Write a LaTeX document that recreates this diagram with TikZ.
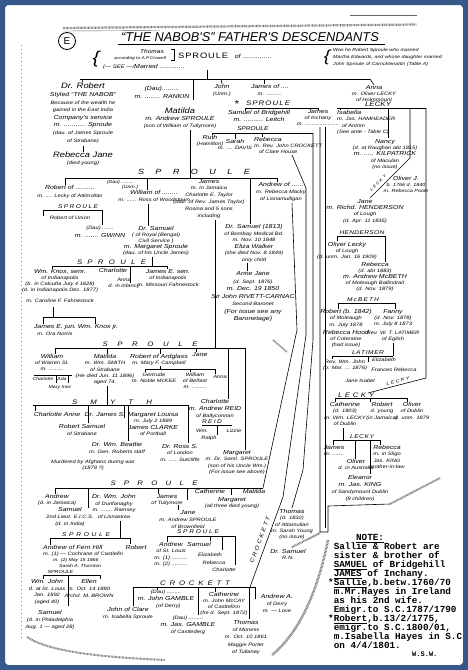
\documentclass[tikz,border=0pt]{standalone}
\usepackage{fontspec}
\setmainfont{Liberation Sans}[FakeStretch=1.2]
\newfontfamily\ttl{Liberation Sans}
\newfontfamily\tw{Liberation Mono}
\definecolor{frameblue}{RGB}{55,88,138}
\newcommand\hm[1]{{\fontsize{5.8}{7}\selectfont #1}}
\newcommand\hn[1]{{\fontsize{7.8}{8}\selectfont #1}}
\newcommand\spreadw[2]{\makebox[#1][s]{#2}}
\begin{document}
\lineskiplimit=-20pt
\begin{tikzpicture}[x=1pt,y=-1pt,
 ln/.style={line width=0.6pt},
 b/.style={font=\itshape\fontsize{4.8}{7}\selectfont, align=center, inner sep=0pt, anchor=north},
 bs/.style={font=\itshape\fontsize{4.8}{#1}\selectfont},
 hd/.style={font=\itshape\fontsize{6.5}{7}\selectfont, inner sep=0pt},
 hds/.style={font=\itshape\fontsize{#1}{7}\selectfont, inner sep=0pt},
 hash/.style={line width=2pt, black!55, dash pattern=on 0.7pt off 0.7pt}]
\useasboundingbox (0,0) rectangle (468,670);
\fill[frameblue] (0,0) rectangle (468,670);
\fill[white, rounded corners=3pt] (5,5) rectangle (463,665);

% ---------- header ----------
\draw[hash, line width=2.2pt] (63,28) -- (417,24.5);
\draw[black!60, line width=0.4pt] (63,31) -- (160,30.5);
\draw[black!60, line width=0.5pt] (350,15) -- (417,15);
\draw[black!50, line width=0.6pt, dash pattern=on 1pt off 3pt] (21,45) -- (21,640);
\node[draw, circle, line width=0.8pt, minimum size=17pt, inner sep=0pt, font=\ttl\fontsize{10}{10}\selectfont] (circE) at (67,41) {E};
\node[font=\ttl\itshape\fontsize{12.8}{13}\selectfont, inner sep=0pt] (title) at (250,37) {“THE NABOB'S” FATHER'S DESCENDANTS};
\draw[ln] (118,44) -- (385,44);

\node[inner sep=0pt, font=\itshape\fontsize{5.5}{6}\selectfont] (thomas) at (152,52) {Thomas};
\node[inner sep=0pt, font=\itshape\fontsize{4}{5}\selectfont] (acc) at (140,58) {according to A.P.Crowell};
\draw[ln] (171,49) -- (174,49) -- (174,60) -- (171,60);
\node[inner sep=0pt, font=\itshape\fontsize{5}{6}\selectfont, anchor=west] (married) at (103,66.5) {(--- SEE ---/\hm{Married .............}};
\node[inner sep=0pt, font=\itshape\fontsize{17}{17}\selectfont] (brace1) at (96,59) {\{};
\node[inner sep=0pt, anchor=west] (sproule0) at (178,56) {\hn{\spreadw{50pt}{S\hfill P\hfill R\hfill O\hfill U\hfill L\hfill E}}\ \ \hm{\itshape of ...............}};
\node[inner sep=0pt, font=\itshape\fontsize{16}{16}\selectfont] (brace2) at (327,57) {\{};
\node[inner sep=0pt, font=\itshape\fontsize{4.4}{5}\selectfont, anchor=west] (washe1) at (333,50) {Was he Robert Sproule who married};
\node[inner sep=0pt, font=\itshape\fontsize{4.4}{5}\selectfont, anchor=west] (washe2) at (333,57.3) {Martha Edwards, and whose daughter married};
\node[inner sep=0pt, font=\itshape\fontsize{4.4}{5}\selectfont, anchor=west] (washe3) at (333,64.6) {John Sproule of Carricklenattin (Table A)};

% ---------- generation 1 ----------
\draw[ln] (207,70) -- (207,79);
\draw[ln] (80,79) -- (370,79);
\node[b, bs=7.6] (drrobert) at (83,83) {\hn{Dr. Robert}\\ \hm{Styled “THE NABOB”}\\ Because of the wealth he\\ gained in the East India\\ \hm{Company's service}\\ \hm{m. ........... Sproule}\\ (dau. of James Sproule\\ of Strabane)};
\draw[ln] (82,79) -- (drrobert.north);
\node[b] (rebjane) at (83,152) {\hn{Rebecca Jane}\\ (died young)};
\draw[ln] (83,146) -- (rebjane.north);

\node[b, bs=8] (rankin) at (162,86) {\hm{(Dau).........}\\ \hm{m. ........ RANKIN}};
\draw[ln] (193,79) -- (193,100);
\node[b] (matilda) at (180,108) {\hn{Matilda}\\ \hm{m. Andrew SPROULE}\\ (son of William of Tullymore)};
\draw[ln] (190,130) -- (190,178);

\node[b] (john) at (222,84) {\hm{John}\\ (Unm.)};
\draw[ln] (221,79) -- (john.north);
\node[b] (jamesof) at (270,84) {\hm{James of ....}\\ m. ..........};
\draw[ln] (264,79) -- (264,84);
\node[inner sep=0pt, font=\fontsize{10}{10}\selectfont] (star) at (237,104) {*};
\node[hd] (spr1) at (268,103) {\spreadw{44pt}{S\hfill P\hfill R\hfill O\hfill U\hfill L\hfill E}};
\draw[ln] (245,108) -- (318,108);
\draw[ln] (245,108) -- (245,111);
\draw[ln] (318,108) -- (318,110);
\node[b] (samb) at (259,110) {\hm{Samuel of Bridgehill}\\ \hm{m. .......... Leitch}};
\node[b, bs=6] (jinch) at (318,109.5) {\hm{James}\\ of Inchany\\ m. .....................};
\node[hds=5.5] (spr2) at (250,128.5) {\spreadw{26pt}{S\hfill P\hfill R\hfill O\hfill U\hfill L\hfill E}};
\draw[ln] (212,133) -- (313,133);
\draw[ln] (212,133) -- (212,135);
\node[b, bs=6] (ruth) at (210,135) {\hm{Ruth}\\ (Hamilton)};
\node[b, bs=6] (sarah) at (235,139) {\hm{Sarah}\\ m. .... DAVIS};
\draw[ln] (235,133) -- (sarah.north);
\node[b, bs=6, align=left, anchor=north west] (rebc) at (254,137) {\hm{Rebecca}\\ m. Rev. John CROCKETT\\ \quad of Clare House};
\draw[ln] (262,133) -- (262,137);

% ---------- Lecky (right) ----------
\node[b, bs=6.3] (anna) at (374,85) {\hm{Anna}\\ m. Oliver LECKY\\ of Holmmount};
\draw[ln] (370,79) -- (anna.north);
\node[hd] (leck1) at (378,104.5) {\spreadw{26pt}{L\hfill E\hfill C\hfill K\hfill Y}};
\draw[ln] (337,108) -- (426,108);
\node[b, bs=6.5, align=left, anchor=north west] (isab) at (337,110) {\hm{Isabella}\\ m. Jas. HAMHEADER\\ \quad of Antrim\\ (See ante - Table C)};
\draw[ln] (340,108) -- (340,110);
\draw[ln] (388,108) -- (388,138);
\node[b, bs=6.4] (nancy) at (385,139) {\hm{Nancy}\\ (d. at Raughan abt 1815)\\ \hm{m. ..... KILPATRICK}\\ of Maculan\\ (no issue)};
\node[b, bs=6, font=\itshape\fontsize{4.5}{6}\selectfont] (oliverj) at (406,176) {\hm{Oliver J.}\\ b. 1766 d. 1840\\ m. Rebecca Poole};
\draw[ln] (410,108) -- (410,158) -- (370,198);
\node[inner sep=0pt, font=\itshape\fontsize{4}{4}\selectfont, rotate=45] (lklab1) at (378,183) {L E C K Y};
\draw[ln] (426,108) -- (426,378) -- (368,393);
\node[inner sep=0pt, font=\itshape\fontsize{4.5}{4}\selectfont, rotate=14.5] (lklab2) at (398,381) {L E C K Y};

\node[b, bs=6.3] (jane) at (365,199) {\hm{Jane}\\ \hm{m. Richd. HENDERSON}\\ of Lough\\ (d. Apr. 11 1835)};
\node[hds=5.5] (hend) at (362,233) {\spreadw{45pt}{H\hfill E\hfill N\hfill D\hfill E\hfill R\hfill S\hfill O\hfill N}};
\draw[ln] (337,236) -- (385,236);
\draw[ln] (337,236) -- (337,241);
\node[b, bs=6] (olecky) at (347,242) {\hm{Oliver Lecky}\\ of Lough\\ (d. unm. Jan. 16 1909)};
\draw[ln] (385,236) -- (385,262);
\node[b, bs=6] (rebmcb) at (375,262) {\hm{Rebecca}\\ (d. abt 1883)\\ \hm{m. Andrew McBETH}\\ of Moleaugh Ballindrait\\ (d. Nov. 1879)};
\node[hds=5.5] (mcbeth) at (363,300) {\spreadw{32pt}{M\hfill c\hfill B\hfill E\hfill T\hfill H}};
\draw[ln] (338,303) -- (395,303);
\draw[ln] (338,303) -- (338,309);
\draw[ln] (395,303) -- (395,309);
\node[b, bs=6.3] (robmc) at (346,309) {\hm{Robert (b. 1842)}\\ of Moleaugh\\ m. July 1878\\[2pt] \hm{Rebecca Hood}\\ of Coleraine\\ (had issue)};
\node[b, bs=6.3] (fanny) at (393,309) {\hm{Fanny}\\ (d. Nov. 1878)\\ m. July 8 1873\\[2pt] Rev. W. T. LATIMER\\ of Eglish};
\draw[ln] (393,343) -- (393,356);
\node[hds=5.5] (latimer) at (368,353) {\spreadw{32pt}{L\hfill A\hfill T\hfill I\hfill M\hfill E\hfill R}};
\draw[ln] (332,356) -- (393,356);
\draw[ln] (332,356) -- (332,359);
\draw[ln] (368,356) -- (368,362);
\node[b, bs=6] (revwm) at (345,360) {Rev. Wm. John\\ (b. Mar. ... 1876)};
\node[b] (eliz) at (384,358) {Elizabeth};
\node[b] (frances) at (394,368) {Frances Rebecca};
\node[b] (janeis) at (360,379) {Jane Isabel};

\node[hd] (leck2) at (356,395) {\spreadw{36pt}{L\hfill E\hfill C\hfill K\hfill Y}};
\draw[ln] (335,398) -- (407,398);
\draw[ln] (335,398) -- (335,402);
\draw[ln] (370,398) -- (370,402);
\draw[ln] (407,398) -- (407,402);
\node[b, bs=6.3] (cathl) at (345,402) {\hm{Catherine}\\ (d. 1803)\\ m. Wm. LECKY\\ of Dublin};
\node[b, bs=6.3] (robl) at (382,402) {\hm{Robert}\\ d. young\\ (in Jamaica)};
\node[b, bs=6.3] (olivl) at (412,402) {\hm{Oliver}\\ of Dublin\\ d. unm. 1879};
\draw[ln] (343,428) -- (343,440);
\node[hds=5.5] (leck3) at (362,436.5) {\spreadw{24pt}{L\hfill E\hfill C\hfill K\hfill Y}};
\draw[ln] (333,440) -- (380,440);
\draw[ln] (333,440) -- (333,445);
\draw[ln] (380,440) -- (380,445);
\draw[ln] (355,440) -- (355,459);
\draw[ln] (370,440) -- (370,474);
\node[b, bs=6.5] (jamesl) at (334,445) {\hm{James}\\ m. .......};
\node[b, bs=6.5] (olivl2) at (356,459) {\hm{Oliver}\\ d. in Australia};
\node[b, bs=6.5] (rebl) at (387,445) {\hm{Rebecca}\\ m. in Sligo\\ Jas. KING\\ brother-in-law};
\node[b, bs=7] (eleanor) at (360,475) {\hm{Eleanor}\\ \hm{m. Jas. KING}\\ of Sandymount Dublin\\ (8 children)};

% right-hand long lines and note frame
\draw[ln] (320,127) -- (320,532) -- (328,532) -- (328,506) -- (390,504);
\draw[ln] (325,127) -- (325,528);
\draw[hash] (390,504) -- (440,478);
\draw[hash] (292,547) -- (320,533);
\draw[hash, line width=2.5pt] (328,540) .. controls (318,590) and (300,632) .. (272,655);
\draw[hash] (27,637) .. controls (50,652) and (100,657) .. (165,660);

% ---------- SPROULE (children of Matilda) ----------
\node[hds=7.5] (spr3) at (194,172) {\spreadw{112pt}{S\hfill P\hfill R\hfill O\hfill U\hfill L\hfill E}};
\draw[ln] (65,178) -- (277,178);
\node[inner sep=0pt, font=\itshape\fontsize{4.4}{5}\selectfont] (dau2) at (120,182) {(Dau) ........};
\node[inner sep=0pt, font=\itshape\fontsize{4.4}{5}\selectfont] (unm2) at (130,187) {(Unm.)};
\draw[ln] (65,178) -- (65,185);
\node[b, bs=8] (robof) at (70,185) {\hm{Robert of ..........}\\ m. .... Lecky of Attimollan};
\node[hds=5.5] (spr4) at (78,207) {\spreadw{40pt}{S\hfill P\hfill R\hfill O\hfill U\hfill L\hfill E}};
\draw[ln] (43,210) -- (102,210);
\draw[ln] (43,210) -- (43,216);
\draw[ln] (102,210) -- (102,225);
\node[b] (robunion) at (70,216) {Robert of Union};
\node[b, bs=8] (daugwinn) at (100,226) {(Dau) .......\\ \hm{m. ....... GWINN}};
\draw[ln] (147,178) -- (147,190);
\node[b, bs=7] (willof) at (154,190.5) {\hm{William of ........}\\ m. ...... Ross of Woodstown};
\draw[ln] (148,204) -- (148,226);
\node[b, bs=6] (drsamc) at (156,226.5) {\hm{Dr. Samuel}\\ \{ of Royal (Bengal)\\ Civil Service \}\\ \hm{m. Margaret Sproule}\\ (dau. of his Uncle James)};
\node[hd] (spr5) at (111.5,262) {\spreadw{69pt}{S\hfill P\hfill R\hfill O\hfill U\hfill L\hfill E}};
\draw[ln] (152,257) -- (152,266);
\draw[ln] (52,266) -- (167,266);
\draw[ln] (52,266) -- (52,269);
\node[b, bs=6.2] (wmknox) at (60,269) {\hm{Wm. Knox, senr.}\\ of Indianapolis\\ (b. in Calcutta July 4 1828)\\ (d. in Indianapolis Dec. 1877)\\[5pt] m. Caroline F. Fahnestock};
\draw[ln] (53,307) -- (53,317);
\draw[ln] (43,317) -- (95,317);
\draw[ln] (43,317) -- (43,324);
\draw[ln] (95,317) -- (95,324);
\node[b] (jejun) at (55,324.5) {\hm{James E. jun.}\\ m. Ora Norris};
\node[b] (wkjr) at (98,324.5) {\hm{Wm. Knox jr.}};
\node[b] (charl1) at (113,268) {\hm{Charlotte}};
\draw[ln] (130,266) -- (130,283);
\node[b, bs=6] (anna2) at (124,277.5) {Anna\\ d. in infancy};
\draw[ln] (167,266) -- (167,269);
\node[b, bs=6.5] (jesen) at (168,269) {\hm{James E. sen.}\\ of Indianapolis\\ m. Missouri Fahnestock};

\node[b, bs=6.8] (jamesj) at (209,179) {\hm{James}\\ m. in Jamaica\\ Charlotte E. Taylor\\ (dau. of Rev. James Taylor)\\ Rosina and 5 sons\\ including};
\draw[ln] (215,220) -- (215,348);
\draw[ln] (250,178) -- (250,224);
\node[b, bs=6.6] (drsam13) at (254,224) {\hm{Dr. Samuel (1813)}\\ of Bombay Medical Bd.\\ m. Nov. 10 1848\\ \hm{Eliza Walker}\\ (she died Nov. 8 1849)\\ only child};
\draw[ln] (247,263) -- (247,271);
\node[b, bs=7.5] (annejane) at (253,271.5) {\hm{Anne Jane}\\ (d. Sept. 1876)\\ \hm{m. Dec. 19 1850}\\ \hm{Sir John RIVETT-CARNAC}\\ Second Baronet\\ \hm{(For issue see any}\\ \hm{Baronetage)}};
\draw[ln] (277,178) -- (277,182);
\node[b, bs=6.8] (andrewof) at (281,182) {\hm{Andrew of ......}\\ m. Rebecca Macky\\ of Lisnamulligan};
\draw[ln] (292,203) -- (297,330) -- (263,488);
\draw[ln] (292,155) -- (306,188) -- (306,335) -- (283,497) -- (250,587);
\draw[ln] (313,133) -- (313,340) -- (303,470) -- (292,508);
\node[inner sep=0pt, font=\itshape\fontsize{5.5}{5}\selectfont, rotate=70] (crlab) at (260,540) {C R O C K E T T};
\draw[hash, line width=1.6pt] (273,340) -- (287,352);

% ---------- SPROULE (children of James) ----------
\node[hd] (spr6) at (150,344) {\spreadw{95pt}{S\hfill P\hfill R\hfill O\hfill U\hfill L\hfill E}};
\draw[ln] (55,348) -- (245,348);
\draw[ln] (55,348) -- (55,354);
\node[b, bs=6] (willws) at (52,354) {\hm{William}\\ of Warren St.\\ m. .........};
\draw[ln] (34,375) -- (72,375);
\node[b, font=\itshape\fontsize{4.3}{5}\selectfont] (charl2) at (43,377.5) {Charlotte};
\node[b, font=\itshape\fontsize{4.3}{5}\selectfont] (ada) at (62,377.5) {Ada};
\node[b, font=\itshape\fontsize{4.3}{5}\selectfont] (mary) at (60,385.5) {Mary Inez};
\draw[ln] (56,375) -- (56,383);
\draw[ln] (68,375) -- (68,383);
\draw[ln] (107,348) -- (107,354);
\node[b, bs=6.3] (matsm) at (105,354) {\hm{Matilda}\\ m. Wm. SMITH\\ of Strabane\\ (He died Jun. 11 1896)\\ aged 74.};
\draw[ln] (107,386) -- (107,405);
\draw[ln] (160,348) -- (160,354);
\node[b, bs=6.5] (robard) at (159,354) {\hm{Robert of Ardglass}\\ m. Mary F. Campbell};
\draw[ln] (160,366) -- (160,369);
\draw[ln] (145,369) -- (215,369);
\draw[ln] (145,369) -- (145,372);
\draw[ln] (190,369) -- (190,372);
\draw[ln] (215,369) -- (215,374);
\node[b, bs=6.5] (gert) at (154,372.5) {Gertrude\\ m. Noble McKEE};
\node[b, bs=6] (willb) at (195,372.5) {William\\ of Belfast\\ m. .........};
\node[b] (anna3) at (220,374.5) {Anna};
\draw[ln] (196,348) -- (196,352);
\node[b] (janesp) at (200,352) {\hm{Jane}};
\draw[ln] (228,348) -- (228,399);
\node[b, bs=7] (charreid) at (215,399) {\hm{Charlotte}\\ \hm{m. Andrew REID}\\ of Ballyconnan};
\node[hds=5.5] (reid) at (212,422) {\spreadw{20pt}{R\hfill E\hfill I\hfill D}};
\draw[ln] (202,425) -- (232,425);
\draw[ln] (217,425) -- (217,435);
\node[b] (wmr) at (202,428.5) {Wm.};
\node[b] (lizzie) at (234,428.5) {Lizzie};
\node[b] (ralph) at (209,435.5) {Ralph};
\draw[ln] (245,348) -- (245,450);
\node[b, bs=6.6] (margs) at (237,450) {\hm{Margaret}\\ m. Dr. Saml. SPROULE\\ (son of his Uncle Wm.)\\ (For issue see above)};

% ---------- SMYTH ----------
\node[hd] (smyth) at (112,402) {\spreadw{80pt}{S\hfill M\hfill Y\hfill T\hfill H}};
\draw[ln] (33,405) -- (188,405);
\draw[ln] (35,405) -- (35,411);
\node[b] (charanne) at (57,412) {\hm{Charlotte Anne}};
\node[b] (drjs) at (105,412) {\hm{Dr. James S.}};
\draw[ln] (124,405) -- (124,418);
\draw[ln] (88,405) -- (88,423);
\node[b, bs=6.8] (robsam) at (82,424) {\hm{Robert Samuel}\\ of Strabane};
\node[b, bs=6.5] (margl) at (153,412) {\hm{Margaret Louisa}\\ m. July 2 1889\\ \hm{James CLARKE}\\ of Portball};
\draw[ln] (128,405) -- (128,441);
\node[b, bs=7] (beattie) at (117,442) {\hm{Dr. Wm. Beattie}\\ m. Gen. Roberts staff};
\node[b, bs=6.5] (murd) at (93,459.5) {Murdered by Afghans during war\\ (1879 ?)};
\draw[ln] (188,405) -- (188,443);
\node[b, bs=6.5] (ross) at (180,444) {\hm{Dr. Ross S.}\\ of London\\ m. ..... Sutcliffe};

% ---------- SPROULE (children of Andrew) ----------
\node[hd] (spr7) at (154,483) {\spreadw{87pt}{S\hfill P\hfill R\hfill O\hfill U\hfill L\hfill E}};
\draw[ln] (55,488) -- (263,488);
\draw[ln] (55,488) -- (55,494);
\node[b, bs=6] (andj) at (57,494) {\hm{Andrew}\\ (d. in Jamaica)};
\node[b, bs=7] (samj) at (70,507) {\hm{Samuel}\\ 2nd Lieut. E.I.C.S.\\ (d. in India)};
\draw[ln] (88,488) -- (88,508);
\node[b, bs=6.7] (drwmj) at (114,494) {\hm{Dr. Wm. John}\\ of Dunfanaghy\\ m. ....... Ramsey\\ of Lisnaskea};
\draw[ln] (120,521) -- (120,538);
\node[hds=5.5] (spr8) at (86,535) {\spreadw{48pt}{S\hfill P\hfill R\hfill O\hfill U\hfill L\hfill E}};
\draw[ln] (50,538) -- (130,538);
\draw[ln] (50,538) -- (50,545);
\draw[ln] (130,538) -- (130,544);
\node[b, bs=6, align=left, anchor=north west] (andfh) at (43,545) {\hm{Andrew of Fern Hill}\\ m. (1) --- Cochrane of Castlefin\\ \hspace*{10pt}{\fontsize{4.3}{5}\selectfont m. (2) May 15 1866}\\ \hspace*{16pt}{\fontsize{4.3}{5}\selectfont Sarah A. Thornton}};
\node[b] (robfh) at (136,545) {\hm{Robert}};
\node[hds=4.5] (spr9) at (60,572) {\spreadw{25pt}{S\hfill P\hfill R\hfill O\hfill U\hfill L\hfill E}};
\draw[ln] (43,575) -- (100,575);
\draw[ln] (43,575) -- (43,579);
\draw[ln] (100,575) -- (100,579);
\node[b, bs=6.6] (wmjsl) at (47,579) {\hm{Wm. John}\\ d. at St. Louis\\ Jan. 1892\\ (aged 40)};
\draw[ln] (68,575) -- (68,606);
\node[b, bs=6.8] (ellen) at (89,579) {\hm{Ellen}\\ m. Oct. 14 1880\\ Archd. M. BROWN};
\node[b, bs=7] (samphil) at (50,610) {\hm{Samuel}\\ (d. in Philadelphia\\ Aug. 1 --- aged 28)};

\draw[ln] (158,488) -- (158,494);
\node[b, bs=6] (jtully) at (167,494) {\hm{James}\\ of Tullymore};
\draw[ln] (178,505) -- (178,510);
\node[b, bs=7] (janet) at (188,510) {\hm{Jane}\\ m. Andrew SPROULE\\ of Brownfield};
\node[hds=5.5] (spr10) at (198,532) {\spreadw{42pt}{S\hfill P\hfill R\hfill O\hfill U\hfill L\hfill E}};
\draw[ln] (167,536) -- (235,536);
\draw[ln] (167,536) -- (167,542);
\draw[ln] (210,536) -- (210,541);
\draw[ln] (222,536) -- (222,550);
\draw[ln] (235,536) -- (235,565);
\node[b, bs=6.3] (andstl) at (171,542) {\hm{Andrew}\\ of St. Louis\\ m. (1) ..........\\ m. (2) ..........};
\node[b] (samst) at (199,542) {\hm{Samuel}};
\node[b] (elizj) at (210,552.5) {Elizabeth};
\node[b] (rebj) at (214,560.5) {Rebecca};
\node[b] (charj) at (224,567.5) {Charlotte};
\draw[ln] (187,488) -- (187,500);
\node[b] (cathsp) at (210,489) {\hm{Catherine}};
\draw[ln] (231,488) -- (231,495);
\node[b] (matsp) at (254,489) {\hm{Matilda}};
\node[b, bs=6] (margsp) at (232,497) {\hm{Margaret}\\ (all three died young)};

\node[b, bs=6.3] (thom1832) at (292,509) {\hm{Thomas}\\ (d. 1832)\\ of Attamullan\\ m. Sarah Young\\ (no issue)};
\node[b, bs=6.5] (samrn) at (288,549) {\hm{Dr. Samuel}\\ R.N.};

% ---------- CROCKETT ----------
\node[hd] (crock) at (195,583) {\spreadw{70pt}{C\hfill R\hfill O\hfill C\hfill K\hfill E\hfill T\hfill T}};
\draw[ln] (133,587) -- (255,587);
\draw[ln] (157,587) -- (157,590);
\node[b, bs=7] (daujg) at (166,590) {(Dau) .........\\ \hm{m. John GAMBLE}\\ \quad (of Derry)};
\draw[ln] (133,587) -- (133,606);
\node[b, bs=7.5] (johnclare) at (128,607) {\hm{John of Clare}\\ m. Isabella Sproule};
\draw[ln] (198,587) -- (198,615);
\node[b, bs=7] (daujas) at (188,616) {(Dau) .........\\ \hm{m. Jas. GAMBLE}\\ of Castlederg};
\draw[ln] (215,587) -- (215,592);
\node[b, bs=6] (cathmc) at (224,592) {\hm{Catherine}\\ m. John McCAY\\ of Castlefinn\\ (he d. Sept. 1872)};
\draw[ln] (249,587) -- (249,619);
\node[b, bs=7.2] (thomcr) at (246,620) {\hm{Thomas}\\ of Moness\\ m. Oct. 10 1861\\ Maggie Porter\\ of Tullaney};
\draw[ln] (255,587) -- (255,599);
\node[b, bs=7] (andA) at (277,594) {\hm{Andrew A.}\\ of Derry\\ m. --- Love};

% ---------- NOTE ----------
\node[inner sep=0pt, align=left, anchor=north west, font=\tw\bfseries\fontsize{9.3}{9}\selectfont] (note) at (328,534) {\phantom{*****}\underline{NOTE:}\\ \phantom{*}Sallie \& Robert are\\ \phantom{*}sister \& brother of\\ \phantom{*}\underline{SAMUEL} of Bridgehill\\ \phantom{*}\underline{JAMES} of Inchany.\\ *\underline{Sallie},b.betw.1760/70\\ \phantom{*}m.Mr.Hayes in Ireland\\ \phantom{*}as his 2nd wife.\\ \phantom{*}Emigr.to S.C.1787/1790\\ *\underline{Robert},b.13/2/1775,\\ \phantom{*}emigr.to S.C.1800/01,\\ \phantom{*}m.Isabella Hayes in S.C.\\ \phantom{*}on 4/4/1801.};
\node[inner sep=0pt, anchor=west, font=\tw\bfseries\fontsize{7}{8}\selectfont] (wsw) at (412,654) {W.S.W.};

% frame overlay
\fill[frameblue, even odd rule] (0,0) rectangle (468,670) [rounded corners=3pt] (5,5) rectangle (463,665);
\end{tikzpicture}
\end{document}
